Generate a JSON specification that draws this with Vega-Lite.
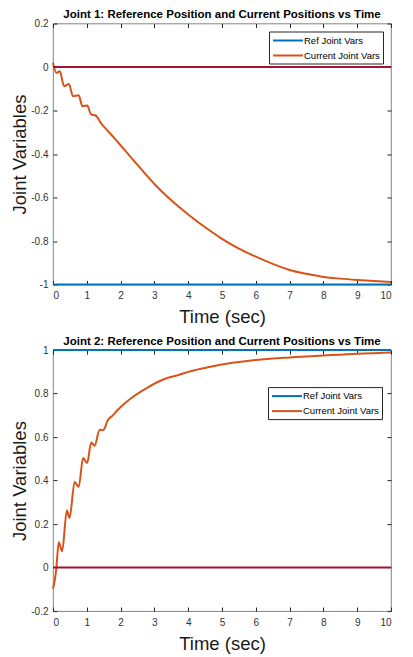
{
  "$schema": "https://vega.github.io/schema/vega-lite/v6.json",
  "background": "white",
  "padding": {"left": 10, "top": 8.5, "right": 5, "bottom": 2},
  "config": {
    "font": "Liberation Sans",
    "view": {"stroke": "#666", "strokeWidth": 0.8},
    "axis": {"grid": false, "domain": false, "tickColor": "#262626", "tickSize": -4, "labelFontSize": 10, "labelColor": "#333", "labelFont": "Liberation Sans", "titleFont": "Liberation Sans", "titleFontSize": 18.5, "titleFontWeight": "normal", "titleColor": "#1a1a1a"},
    "title": {"font": "Liberation Sans", "fontSize": 11.5, "fontWeight": "bold", "color": "#000", "offset": -2.3},
    "legend": {"orient": "none", "title": null, "symbolType": "M-1,0H5", "symbolSize": 100, "symbolStrokeWidth": 2, "labelFontSize": 9.5, "labelFont": "Liberation Sans", "labelColor": "#000", "strokeColor": "#262626", "fillColor": "#fff", "padding": 3, "rowPadding": 4, "labelOffset": 20}
  },
  "datasets": {
    "j1": [
      {"t": 0, "v": -1, "series": "Ref Joint Vars"},
      {"t": 10, "v": -1, "series": "Ref Joint Vars"},
      {"t": 0, "v": 0.02, "series": "Current Joint Vars"},
      {"t": 0.1, "v": -0.027, "series": "Current Joint Vars"},
      {"t": 0.2, "v": -0.02, "series": "Current Joint Vars"},
      {"t": 0.33, "v": -0.088, "series": "Current Joint Vars"},
      {"t": 0.47, "v": -0.078, "series": "Current Joint Vars"},
      {"t": 0.59, "v": -0.134, "series": "Current Joint Vars"},
      {"t": 0.76, "v": -0.13, "series": "Current Joint Vars"},
      {"t": 0.87, "v": -0.18, "series": "Current Joint Vars"},
      {"t": 1.01, "v": -0.177, "series": "Current Joint Vars"},
      {"t": 1.13, "v": -0.218, "series": "Current Joint Vars"},
      {"t": 1.26, "v": -0.223, "series": "Current Joint Vars"},
      {"t": 1.43, "v": -0.26, "series": "Current Joint Vars"},
      {"t": 1.6, "v": -0.29, "series": "Current Joint Vars"},
      {"t": 1.82, "v": -0.328, "series": "Current Joint Vars"},
      {"t": 2.0, "v": -0.36, "series": "Current Joint Vars"},
      {"t": 2.25, "v": -0.405, "series": "Current Joint Vars"},
      {"t": 2.5, "v": -0.45, "series": "Current Joint Vars"},
      {"t": 2.75, "v": -0.495, "series": "Current Joint Vars"},
      {"t": 3.0, "v": -0.538, "series": "Current Joint Vars"},
      {"t": 3.25, "v": -0.577, "series": "Current Joint Vars"},
      {"t": 3.5, "v": -0.613, "series": "Current Joint Vars"},
      {"t": 4.0, "v": -0.678, "series": "Current Joint Vars"},
      {"t": 4.5, "v": -0.737, "series": "Current Joint Vars"},
      {"t": 5.0, "v": -0.79, "series": "Current Joint Vars"},
      {"t": 5.5, "v": -0.835, "series": "Current Joint Vars"},
      {"t": 6.0, "v": -0.872, "series": "Current Joint Vars"},
      {"t": 6.5, "v": -0.905, "series": "Current Joint Vars"},
      {"t": 7.0, "v": -0.933, "series": "Current Joint Vars"},
      {"t": 7.5, "v": -0.951, "series": "Current Joint Vars"},
      {"t": 8.0, "v": -0.965, "series": "Current Joint Vars"},
      {"t": 8.5, "v": -0.973, "series": "Current Joint Vars"},
      {"t": 9.0, "v": -0.979, "series": "Current Joint Vars"},
      {"t": 9.5, "v": -0.984, "series": "Current Joint Vars"},
      {"t": 10, "v": -0.988, "series": "Current Joint Vars"}
    ],
    "j2": [
      {"t": 0, "v": 1, "series": "Ref Joint Vars"},
      {"t": 10, "v": 1, "series": "Ref Joint Vars"},
      {"t": 0, "v": -0.097, "series": "Current Joint Vars"},
      {"t": 0.05, "v": -0.06, "series": "Current Joint Vars"},
      {"t": 0.1, "v": 0.0, "series": "Current Joint Vars"},
      {"t": 0.17, "v": 0.117, "series": "Current Joint Vars"},
      {"t": 0.27, "v": 0.075, "series": "Current Joint Vars"},
      {"t": 0.41, "v": 0.262, "series": "Current Joint Vars"},
      {"t": 0.49, "v": 0.228, "series": "Current Joint Vars"},
      {"t": 0.64, "v": 0.394, "series": "Current Joint Vars"},
      {"t": 0.76, "v": 0.371, "series": "Current Joint Vars"},
      {"t": 0.89, "v": 0.504, "series": "Current Joint Vars"},
      {"t": 1.01, "v": 0.481, "series": "Current Joint Vars"},
      {"t": 1.13, "v": 0.575, "series": "Current Joint Vars"},
      {"t": 1.23, "v": 0.56, "series": "Current Joint Vars"},
      {"t": 1.38, "v": 0.634, "series": "Current Joint Vars"},
      {"t": 1.48, "v": 0.632, "series": "Current Joint Vars"},
      {"t": 1.63, "v": 0.68, "series": "Current Joint Vars"},
      {"t": 1.77, "v": 0.7, "series": "Current Joint Vars"},
      {"t": 1.92, "v": 0.726, "series": "Current Joint Vars"},
      {"t": 2.32, "v": 0.78, "series": "Current Joint Vars"},
      {"t": 2.81, "v": 0.829, "series": "Current Joint Vars"},
      {"t": 3.3, "v": 0.867, "series": "Current Joint Vars"},
      {"t": 3.7, "v": 0.885, "series": "Current Joint Vars"},
      {"t": 4.0, "v": 0.9, "series": "Current Joint Vars"},
      {"t": 4.5, "v": 0.918, "series": "Current Joint Vars"},
      {"t": 5.0, "v": 0.934, "series": "Current Joint Vars"},
      {"t": 5.5, "v": 0.945, "series": "Current Joint Vars"},
      {"t": 6.0, "v": 0.954, "series": "Current Joint Vars"},
      {"t": 6.5, "v": 0.961, "series": "Current Joint Vars"},
      {"t": 7.0, "v": 0.966, "series": "Current Joint Vars"},
      {"t": 7.5, "v": 0.971, "series": "Current Joint Vars"},
      {"t": 8.0, "v": 0.975, "series": "Current Joint Vars"},
      {"t": 8.5, "v": 0.979, "series": "Current Joint Vars"},
      {"t": 9.0, "v": 0.983, "series": "Current Joint Vars"},
      {"t": 9.5, "v": 0.986, "series": "Current Joint Vars"},
      {"t": 10, "v": 0.989, "series": "Current Joint Vars"}
    ],
    "zero": [
      {"t": 0, "v": 0},
      {"t": 10, "v": 0}
    ]
  },
  "resolve": {"scale": {"y": "independent"}, "legend": {"color": "independent"}},
  "spacing": 8.6,
  "vconcat": [
    {
      "width": 338,
      "height": 261,
      "title": "Joint 1: Reference Position and Current Positions vs Time",
      "resolve": {"axis": {"x": "independent", "y": "independent"}},
      "layer": [
        {
          "data": {"name": "j1"},
          "mark": {"type": "line", "strokeWidth": 2, "interpolate": "monotone"},
          "encoding": {
            "x": {"field": "t", "type": "quantitative", "scale": {"domain": [0, 10], "nice": false}, "axis": {"orient": "bottom", "values": [0, 1, 2, 3, 4, 5, 6, 7, 8, 9, 10], "title": "Time (sec)", "labelExpr": "toString(datum.value)", "labelPadding": 10, "titlePadding": 7}},
            "y": {"field": "v", "type": "quantitative", "scale": {"domain": [-1, 0.2], "nice": false, "zero": false}, "axis": {"orient": "left", "values": [-1, -0.8, -0.6, -0.4, -0.2, 0, 0.2], "title": "Joint Variables", "labelExpr": "toString(datum.value)", "labelPadding": 9, "titlePadding": 1}},
            "color": {"field": "series", "type": "nominal", "scale": {"domain": ["Ref Joint Vars", "Current Joint Vars"], "range": ["#0072BD", "#D95319"]}, "legend": {"legendX": 216, "legendY": 8}}
          }
        },
        {
          "data": {"name": "zero"},
          "mark": {"type": "line", "color": "#A2142F", "strokeWidth": 2},
          "encoding": {
            "x": {"field": "t", "type": "quantitative", "axis": {"orient": "top", "values": [0, 1, 2, 3, 4, 5, 6, 7, 8, 9, 10], "labels": false, "title": null}},
            "y": {"field": "v", "type": "quantitative", "axis": {"orient": "right", "values": [-1, -0.8, -0.6, -0.4, -0.2, 0, 0.2], "labels": false, "title": null}}
          }
        }
      ]
    },
    {
      "width": 338,
      "height": 261,
      "title": "Joint 2: Reference Position and Current Positions vs Time",
      "resolve": {"axis": {"x": "independent", "y": "independent"}},
      "layer": [
        {
          "data": {"name": "j2"},
          "mark": {"type": "line", "strokeWidth": 2, "interpolate": "monotone"},
          "encoding": {
            "x": {"field": "t", "type": "quantitative", "scale": {"domain": [0, 10], "nice": false}, "axis": {"orient": "bottom", "values": [0, 1, 2, 3, 4, 5, 6, 7, 8, 9, 10], "title": "Time (sec)", "labelExpr": "toString(datum.value)", "labelPadding": 10, "titlePadding": 7}},
            "y": {"field": "v", "type": "quantitative", "scale": {"domain": [-0.2, 1], "nice": false, "zero": false}, "axis": {"orient": "left", "values": [-0.2, 0, 0.2, 0.4, 0.6, 0.8, 1], "title": "Joint Variables", "labelExpr": "toString(datum.value)", "labelPadding": 9, "titlePadding": 1}},
            "color": {"field": "series", "type": "nominal", "scale": {"domain": ["Ref Joint Vars", "Current Joint Vars"], "range": ["#0072BD", "#D95319"]}, "legend": {"legendX": 215, "legendY": 37}}
          }
        },
        {
          "data": {"name": "zero"},
          "mark": {"type": "line", "color": "#A2142F", "strokeWidth": 2},
          "encoding": {
            "x": {"field": "t", "type": "quantitative", "axis": {"orient": "top", "values": [0, 1, 2, 3, 4, 5, 6, 7, 8, 9, 10], "labels": false, "title": null}},
            "y": {"field": "v", "type": "quantitative", "axis": {"orient": "right", "values": [-0.2, 0, 0.2, 0.4, 0.6, 0.8, 1], "labels": false, "title": null}}
          }
        }
      ]
    }
  ]
}
